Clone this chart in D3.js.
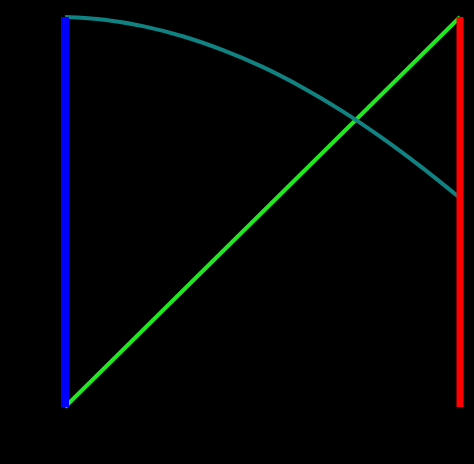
<!DOCTYPE html>
<html><head><meta charset="utf-8">
<script src="https://cdn.jsdelivr.net/npm/d3@7"></script>
<style>html,body{margin:0;padding:0;background:#000;}svg{display:block;}</style>
</head><body>
<script>
// Curve values (x from 0 to 1)
const curveX = [0, 0.1, 0.2, 0.3, 0.4, 0.5, 0.6, 0.7, 0.8, 0.9, 1.0];
const curveY = [1.0, 0.993, 0.976, 0.95, 0.915, 0.872, 0.82, 0.76, 0.692, 0.617, 0.536];
// Diagonal line endpoints
const diagX = [0, 1];
const diagY = [0, 1];
// Vertical bounds
const leftBound = [[0, 0], [0, 1]];
const rightBound = [[1, 0], [1, 1]];

const W = 474, H = 464;
const svg = d3.select("body").append("svg").attr("width", W).attr("height", H)
  .style("background", "#000");
svg.append("rect").attr("width", W).attr("height", H).attr("fill", "#000");

const x = d3.scaleLinear().domain([0, 1]).range([65, 460]);
const y = d3.scaleLinear().domain([0, 1]).range([407, 17]);

const line = d3.line().x(d => x(d[0])).y(d => y(d[1]));
const smooth = d3.line().x(d => x(d[0])).y(d => y(d[1])).curve(d3.curveCatmullRom);

svg.append("path").datum(diagX.map((v, i) => [v, diagY[i]]))
  .attr("d", line).attr("fill", "none").attr("stroke", "rgb(34,232,34)").attr("stroke-width", 4);

svg.append("path").datum(curveX.map((v, i) => [v, curveY[i]]))
  .attr("d", smooth).attr("fill", "none").attr("stroke", "rgb(16,130,130)").attr("stroke-width", 4);

svg.append("path").datum(leftBound)
  .attr("d", line).attr("fill", "none").attr("stroke", "#0000ff").attr("stroke-width", 8);
svg.append("path").datum(rightBound)
  .attr("d", line).attr("fill", "none").attr("stroke", "#ff0000").attr("stroke-width", 7);
</script>
</body></html>
